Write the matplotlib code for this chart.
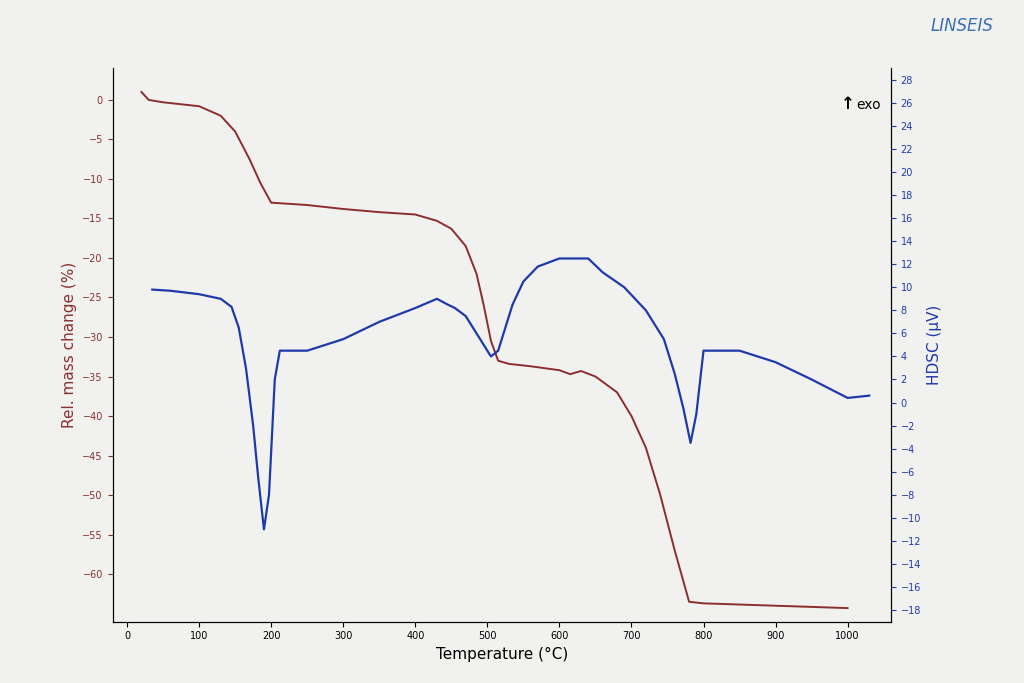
import matplotlib.pyplot as plt

# mass change (TG) curve
tg_temp = [20, 30, 50, 100, 130, 150, 170, 185, 200, 250, 300, 350, 400, 430, 450, 470, 485, 495, 505, 515, 530, 560, 600, 615, 630, 650, 680, 700, 720, 740, 760, 780, 800, 900, 1000]
tg_mass = [1, 0, -0.3, -0.8, -2, -4, -7.5, -10.5, -13, -13.3, -13.8, -14.2, -14.5, -15.3, -16.3, -18.5, -22, -26, -30.5, -33, -33.4, -33.7, -34.2, -34.7, -34.3, -35, -37, -40, -44, -50, -57, -63.5, -63.7, -64, -64.3]

# HDSC curve
dsc_temp = [35, 60, 100, 130, 145, 155, 165, 175, 182, 190, 197, 205, 212, 250, 300, 350, 400, 430, 445, 455, 470, 490, 505, 515, 525, 535, 550, 570, 600, 640, 660, 690, 720, 745, 760, 772, 782, 790, 800, 850, 900, 950, 1000, 1030]
dsc_val = [9.8, 9.7, 9.4, 9.0, 8.3, 6.5, 3.0, -2.0, -6.5, -11.0, -8.0, 2.0, 4.5, 4.5, 5.5, 7.0, 8.2, 9.0, 8.5, 8.2, 7.5, 5.5, 4.0, 4.5, 6.5, 8.5, 10.5, 11.8, 12.5, 12.5, 11.3, 10.0, 8.0, 5.5, 2.5, -0.5, -3.5, -1.0, 4.5, 4.5, 3.5, 2.0, 0.4, 0.6]

red = '#8b2e2e'
blue = '#1f3aa8'

fig, ax = plt.subplots(figsize=(10.24, 6.83), dpi=100)
fig.patch.set_facecolor('#f1f2ef')
ax.set_facecolor('#f1f2ef')
fig.subplots_adjust(left=0.11, right=0.87, top=0.90, bottom=0.09)

ax.plot(tg_temp, tg_mass, color=red, lw=1.4)
ax.set_xlim(-20, 1060)
ax.set_ylim(-66, 4)
ax.set_xticks(range(0, 1001, 100))
ax.set_yticks(range(-60, 1, 5))
ax.set_xlabel('Temperature (°C)', fontsize=11)
ax.set_ylabel('Rel. mass change (%)', color=red, fontsize=11)
ax.tick_params(labelsize=7)
ax.tick_params(axis='y', colors=red, labelsize=7)
for s in ['top']:
    ax.spines[s].set_visible(False)

ax2 = ax.twinx()
ax2.plot(dsc_temp, dsc_val, color=blue, lw=1.6)
ax2.set_ylim(-19, 29)
ax2.set_yticks(range(-18, 29, 2))
ax2.set_ylabel('HDSC (µV)', color=blue, fontsize=11)
ax2.tick_params(axis='y', colors=blue, labelsize=7)
ax2.spines['top'].set_visible(False)

ax2.text(1010, 25.5, '↑', color='black', fontsize=12, fontweight='bold', ha='right')
ax2.text(1012, 25.5, 'exo', color='black', fontsize=10, ha='left')
fig.text(0.97, 0.955, 'LINSEIS', color='#3a6fb5', fontsize=12, fontstyle='italic', ha='right')

fig.savefig('out.png', dpi=100, facecolor=fig.get_facecolor())
